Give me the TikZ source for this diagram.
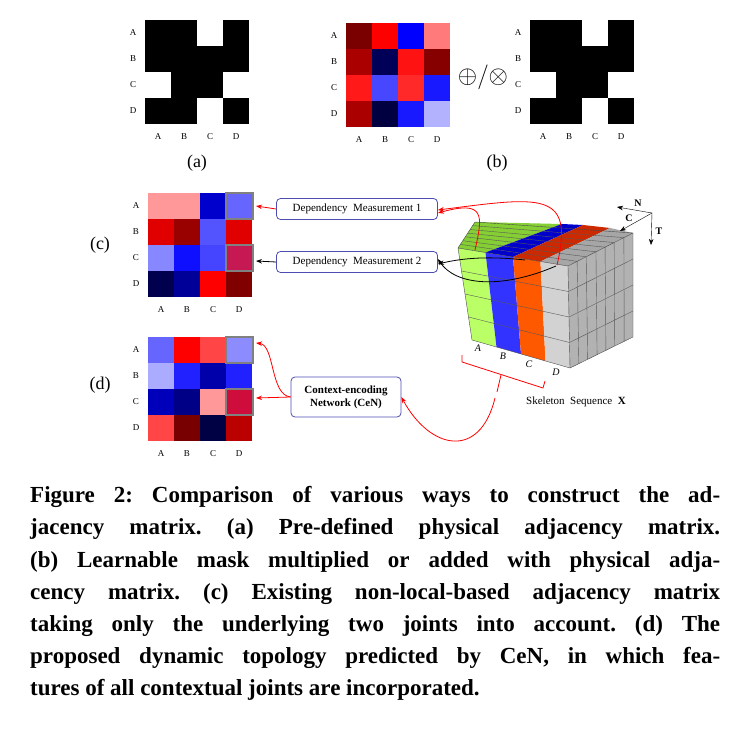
\documentclass[tikz,border=0pt]{standalone}
\usepackage{fontspec}
\setmainfont{Liberation Serif}
\usepackage{amssymb}
\usetikzlibrary{arrows.meta,calc}
\newcommand\heat[4]{% name, x0, y0, colors
  \foreach \c [count=\i from 0] in {#4}{
    \pgfmathtruncatemacro\rr{int(\i/4)}
    \pgfmathtruncatemacro\kk{mod(\i,4)}
    \fill[fill=\c] ({#2+\kk*26},{#3+\rr*26}) rectangle ++(26,26);}
  \foreach \l [count=\j from 0] in {A,B,C,D}{
    \node[lab] (#1r\l) at ({#2-12},{#3+13+\j*26}) {\l};
    \node[lab] (#1c\l) at ({#2+13+\j*26},{#3+117}) {\l};}
}
\begin{document}
\frenchspacing
\begin{tikzpicture}[x=1pt,y=-1pt,
  lab/.style={font=\fontsize{9}{9}\selectfont,inner sep=0},
  pl/.style={font=\fontsize{18}{18}\selectfont,inner sep=0},
  hl/.style={draw=gray,line width=1.8pt},
  dep/.style={draw=blue!40!gray,rounded corners=4pt,thick,minimum width=161pt,minimum height=21pt,font=\fontsize{11}{11}\selectfont,inner sep=2pt},
  ra/.style={red,thick,-{Stealth[length=6pt]}},
  ka/.style={black,thick,-{Stealth[length=6pt]}},
  grid/.style={gray!70!black,line width=0.4pt},
  captxt/.style={anchor=west,inner sep=0,font=\bfseries\fontsize{23}{24}\selectfont}]
\useasboundingbox (0,0) rectangle (750,730);
% (a)
\heat{a}{145}{20}{black,black,white,black,black,black,black,black,white,black,black,white,black,black,white,black}
\node[pl] (la) at (197,163) {(a)};
% (b)
\heat{b}{346}{23}{red!48!black,red,blue,red!52,red!67!black,blue!35!black,red!93,red!53!black,red!90!white,blue!72,red!84,blue!90,red!67!black,blue!25!black,blue!90,blue!30}
\node[font=\fontsize{32}{32}\selectfont,inner sep=0] (op) at (483,77) {$\oplus/\otimes$};
\heat{bb}{530}{20}{black,black,white,black,black,black,black,black,white,black,black,white,black,black,white,black}
\node[pl] (lb) at (497,163) {(b)};
% (c)
\heat{c}{148}{193}{red!40,red!40,blue!80!black,blue!60,red!88!black,red!60!black,blue!67,red!88!black,blue!47,blue!94,blue!73,red!75!blue!90,blue!31!black,blue!60!black,red,red!50!black}
\draw[hl] (226,193) rectangle (253,219);
\draw[hl] (226,245) rectangle (253,271);
\node[pl] (lc) at (100,245) {(c)};
% (d)
\heat{d}{148}{337}{blue!60,red,red!73,blue!45,blue!33,blue!87,blue!67!black,blue!87,blue!73!black,blue!53!black,red!40,red!80!blue!95,red!73,red!47!black,blue!27!black,red!73!black}
\draw[hl] (226,337) rectangle (253,363);
\draw[hl] (226,389) rectangle (253,415);
\node[pl] (ld) at (100,385) {(d)};
% boxes
\node[dep] (d1) at (357,209) {Dependency\ \ Measurement 1};
\node[dep] (d2) at (357,262) {Dependency\ \ Measurement 2};
\node[dep,minimum width=110pt,minimum height=40pt,align=center,font=\bfseries\fontsize{11}{13}\selectfont] (cen) at (346,397) {Context-encoding\\Network (CeN)};
% cube
\coordinate (FTL) at (458,248); \coordinate (FTR) at (568,266);
\coordinate (FBL) at (472,340); \coordinate (FBR) at (570,368);
\coordinate (BTL) at (475,222); \coordinate (BTR) at (633,233);
\coordinate (BBR) at (633,337);
\foreach \c [count=\i from 0] in {green!45!yellow!60!white,blue!80,orange!70!red,gray!35}{
  \pgfmathsetmacro\a{\i/4}\pgfmathsetmacro\b{(\i+1)/4}
  \fill[\c] ($(FTL)!\a!(FTR)$) -- ($(FTL)!\b!(FTR)$) -- ($(FBL)!\b!(FBR)$) -- ($(FBL)!\a!(FBR)$) -- cycle;}
\fill[green!60!black!60!yellow!80!white] (FTL) -- ($(FTL)!0.25!(FTR)$) -- (562,224) -- (BTL) -- cycle;
\fill[blue!80!black] ($(FTL)!0.25!(FTR)$) -- ($(FTL)!0.5!(FTR)$) -- (583,225) -- (562,224) -- cycle;
\fill[red!60!orange!80!black] ($(FTL)!0.5!(FTR)$) -- ($(FTL)!0.75!(FTR)$) -- (610,228) -- (583,225) -- cycle;
\fill[gray!70] ($(FTL)!0.75!(FTR)$) -- (FTR) -- (BTR) -- (610,228) -- cycle;
\fill[gray!60] (FTR) -- (BTR) -- (BBR) -- (FBR) -- cycle;
\foreach \t in {0.25,0.5,0.75}{
  \draw[grid] ($(FTL)!\t!(FBL)$) -- ($(FTR)!\t!(FBR)$) -- ($(BTR)!\t!(BBR)$);}
\foreach \t in {0.14,0.28,0.43,0.57,0.71,0.86}{
  \draw[grid] ($(FTR)!\t!(BTR)$) -- ($(FBR)!\t!(BBR)$);
  \draw[grid] ($(FTL)!\t!(BTL)$) -- ($(FTR)!\t!(BTR)$);}
\draw[gray!60!black] (FTL) -- (FTR) -- (FBR) -- (FBL) -- cycle (FTR) -- (BTR) -- (BBR) -- (FBR) (FTL) -- (BTL) -- (BTR);
\foreach \l/\x/\y in {A/478/348,B/503/356,C/529/364,D/556/372}
  \node[font=\itshape\fontsize{10}{10}\selectfont,inner sep=0] (s\l) at (\x,\y) {\l};
\node[font=\fontsize{11}{11}\selectfont,anchor=west,inner sep=0] (sk) at (526,402) {Skeleton\ \ Sequence\ \ $\mathbf{X}$};
% axes
\coordinate (O) at (652,213);
\coordinate (N) at (617,207); \coordinate (Cc) at (620,231); \coordinate (T) at (651,245);
\draw[ka,thin] (O) -- (N); \draw[ka,thin] (O) -- (Cc); \draw[ka,thin] (O) -- (T);
\node[font=\bfseries\fontsize{10}{10}\selectfont,inner sep=0] (nN) at (638,203) {N};
\node[font=\bfseries\fontsize{10}{10}\selectfont,inner sep=0] (nC) at (629,218) {C};
\node[font=\bfseries\fontsize{10}{10}\selectfont,inner sep=0] (nT) at (659,231) {T};
% bracket
\coordinate (k1) at (462,355); \coordinate (k2) at (462,362); \coordinate (k3) at (543,388); \coordinate (k4) at (545,381);
\coordinate (km) at (501,375); \coordinate (kd) at (497,392);
\draw[red,thick] (k1) -- (k2) -- (k3) -- (k4);
\draw[red,thick] (km) -- (kd);
\coordinate (kd2) at (495,398);
\draw[ra] (kd2) .. controls (480,460) and (430,450) .. (cen.east);
% curves to dep boxes
\coordinate (g1) at (475,250); \coordinate (g2) at (557,265);
\coordinate (g3) at (525,260); \coordinate (g4) at (556,266);
\draw[ra] (g1) .. controls (483,215) and (485,200) .. ([yshift=-4pt]d1.east);
\draw[ra] (g2) .. controls (575,190) and (540,197) .. ([yshift=-1pt]d1.east);
\draw[ka] (g3) .. controls (480,255) and (455,260) .. ([yshift=-2pt]d2.east);
\draw[ka] (g4) .. controls (500,290) and (455,285) .. ([yshift=3pt]d2.east);
% arrows to matrices
\coordinate (m1) at (256,206); \coordinate (m2) at (256,261);
\coordinate (m3) at (256,343); \coordinate (m4) at (256,398);
\draw[ra] (d1.west) -- (m1);
\draw[ka] (d2.west) -- (m2);
\draw[ra] (cen.west) .. controls (270,395) and (275,345) .. (m3);
\draw[ra] (cen.west) -- (m4);
% caption
\node[captxt] (c1) at (30,497) {\makebox[690pt][s]{Figure 2: Comparison of various ways to construct the ad-}};
\node[captxt] (c2) at (30,529) {\makebox[690pt][s]{jacency matrix. (a) Pre-defined physical adjacency matrix.}};
\node[captxt] (c3) at (30,562) {\makebox[690pt][s]{(b) Learnable mask multiplied or added with physical adja-}};
\node[captxt] (c4) at (30,594) {\makebox[690pt][s]{cency matrix. (c) Existing non-local-based adjacency matrix}};
\node[captxt] (c5) at (30,626) {\makebox[690pt][s]{taking only the underlying two joints into account. (d) The}};
\node[captxt] (c6) at (30,658) {\makebox[690pt][s]{proposed dynamic topology predicted by CeN, in which fea-}};
\node[captxt] (c7) at (30,690) {tures of all contextual joints are incorporated.};
\end{tikzpicture}
\end{document}
